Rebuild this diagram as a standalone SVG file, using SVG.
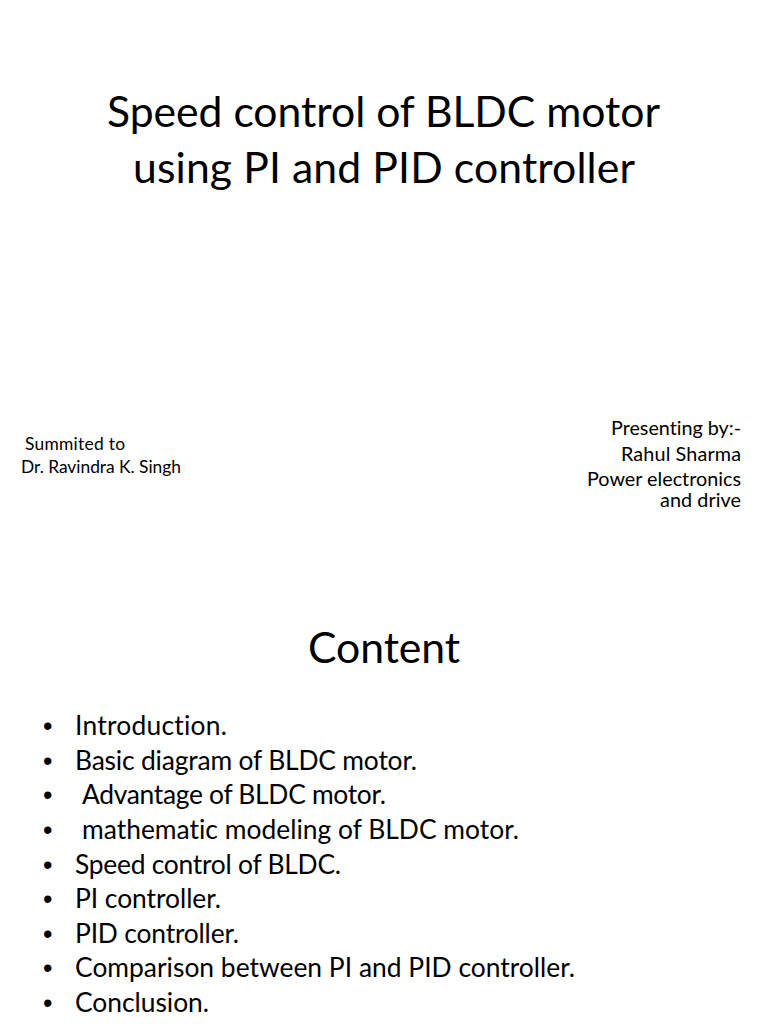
<svg xmlns="http://www.w3.org/2000/svg" width="768" height="1024" viewBox="0 0 768 1024">
<style>
text{font-family:Lato,"Open Sans","Liberation Sans",sans-serif;fill:#000;font-variant-ligatures:none}
.t{font-size:42.7px}
.s{font-size:17.4px}
.r{font-size:19.8px}
.b{font-size:26.4px}
.d{font-family:"Liberation Sans",sans-serif;font-size:27px}
</style>
<rect width="768" height="1024" fill="#fff"/>
<text class="t" x="107" y="127" textLength="553">Speed control of BLDC motor</text>
<text class="t" x="133" y="183" textLength="502">using PI and PID controller</text>
<text class="s" x="25" y="450" textLength="100">Summited to</text>
<text class="s" x="21" y="473" textLength="160">Dr. Ravindra K. Singh</text>
<text class="r" x="611" y="435" textLength="130">Presenting by:-</text>
<text class="r" x="621" y="461" textLength="120">Rahul Sharma</text>
<text class="r" x="587" y="486" textLength="154">Power electronics</text>
<text class="r" x="660" y="507" textLength="81">and drive</text>
<text class="t" x="308" y="663" textLength="152">Content</text>
<g class="b">
<text class="d" x="43" y="735">•</text><text x="75" y="735" textLength="152">Introduction.</text>
<text class="d" x="43" y="770">•</text><text x="75" y="770" textLength="342">Basic diagram of BLDC motor.</text>
<text class="d" x="43" y="804">•</text><text x="82" y="804" textLength="304">Advantage of BLDC motor.</text>
<text class="d" x="43" y="839">•</text><text x="82" y="839" textLength="437">mathematic modeling of BLDC motor.</text>
<text class="d" x="43" y="874">•</text><text x="75" y="874" textLength="266">Speed control of BLDC.</text>
<text class="d" x="43" y="908">•</text><text x="75" y="908" textLength="146">PI controller.</text>
<text class="d" x="43" y="943">•</text><text x="75" y="943" textLength="164">PID controller.</text>
<text class="d" x="43" y="977">•</text><text x="75" y="977" textLength="500">Comparison between PI and PID controller.</text>
<text class="d" x="43" y="1012">•</text><text x="75" y="1012" textLength="134">Conclusion.</text>
</g>
</svg>
